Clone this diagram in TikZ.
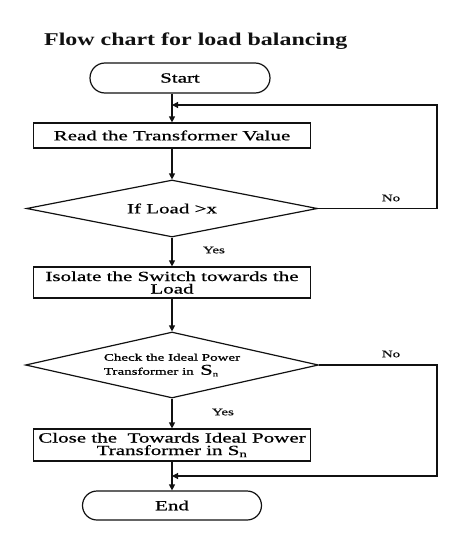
\documentclass[tikz,border=0pt]{standalone}
\usepackage{fontspec}
\setmainfont{Liberation Serif}
\newfontfamily\wideserif{Liberation Serif}[FakeStretch=1.5, FakeBold=0.8]
\newfontfamily\titleserif{Liberation Serif}[FakeStretch=1.33]
\usetikzlibrary{arrows.meta, shapes.geometric, shapes.misc}
\definecolor{ink}{HTML}{111111}
\definecolor{page}{HTML}{FFFFFF}
\tikzset{
  term/.style={
    draw=ink, line width=1.2pt, rounded rectangle, inner sep=0pt,
    font=\wideserif\fontsize{14}{12.5}\selectfont
  },
  proc/.style={
    draw=ink, line width=1.2pt, rectangle, minimum width=277pt,
    inner sep=0pt, align=center, font=\wideserif\fontsize{14}{12.5}\selectfont
  },
  decide/.style={draw=ink, line width=1.2pt, diamond, inner sep=0pt},
  flow-edge/.style={-{Triangle[length=6pt, width=6pt]}, line width=1.2pt, draw=ink},
  branch/.style={font=\wideserif\fontsize{10}{10}\selectfont, text=ink},
  chart-title/.style={font=\titleserif\bfseries\fontsize{18}{18}\selectfont, text=ink}
}

\begin{document}
\begin{tikzpicture}[x=1pt, y=-1pt]

  \useasboundingbox[fill=page] (0,0) rectangle (463,541);

  % ---- Title ---------------------------------------------------------------
  \node[chart-title, anchor=west, inner sep=0pt] (title) at (44,41)
        {Flow chart for load balancing};

  % ---- Main column ---------------------------------------------------------
  \node[term, minimum width=180pt, minimum height=30pt] (start) at (180,78) {Start};
  \node[proc, minimum height=25pt] (read) at (172,135.5) {Read the Transformer Value};
  \node[decide, aspect=5.1, minimum width=291pt, minimum height=57pt,
        font=\wideserif\fontsize{14}{12.5}\selectfont] (load) at (172,208.5)
        {If Load >x};
  \node[proc, minimum height=31pt] (isolate) at (172,282.5)
        {Isolate the Switch towards the\\Load};
  \node[decide, aspect=4.44, minimum width=293pt, minimum height=66pt, align=left,
        font=\wideserif\fontsize{10}{14}\selectfont] (ideal) at (172,365)
        {Check the Ideal Power\\Transformer in \;{\fontsize{15}{14}\selectfont S}\textsubscript{n}};
  \node[proc, minimum height=32pt] (close) at (172,445)
        {Close the\ \ Towards Ideal Power\\Transformer in S\textsubscript{n}};
  \node[term, minimum width=179pt, minimum height=29pt] (end) at (172,505.5) {End};

  % ---- Return rails (right margin) ----------------------------------------
  \coordinate (rail-top) at (437,105);
  \coordinate (rail-bot) at (437,476);

  % ---- Branch labels -------------------------------------------------------
  \node[branch] (no-load)   at (391,198) {No};
  \node[branch] (yes-load)  at (214,250) {Yes};
  \node[branch] (no-ideal)  at (391,354) {No};
  \node[branch] (yes-ideal) at (223,412) {Yes};

  % ---- Connectors ----------------------------------------------------------
  \draw[flow-edge] (start.south -| read.north) -- (read.north);
  \draw[flow-edge] (read.south) -- (load.north);
  \draw[flow-edge] (load.south) -- (isolate.north);
  \draw[flow-edge] (isolate.south) -- (ideal.north);
  \draw[flow-edge] (ideal.south) -- (close.north);
  \draw[flow-edge] (close.south) -- (end.north);

  \draw[flow-edge] (load.east) -| (rail-top) -- (read.north |- rail-top);
  \draw[flow-edge] (ideal.east) -| (rail-bot) -- (end.north |- rail-bot);

\end{tikzpicture}
\end{document}
